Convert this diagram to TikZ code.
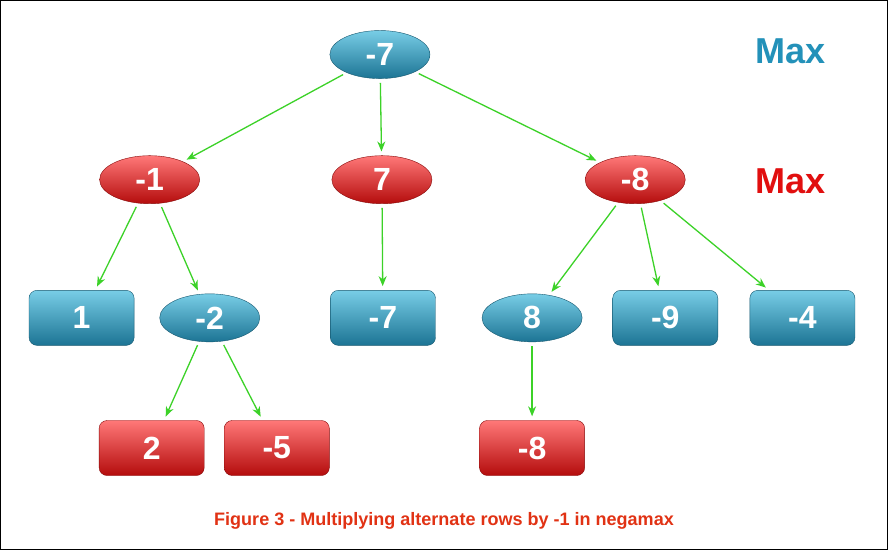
\documentclass[tikz,border=0pt]{standalone}
\usepackage{fontspec}
\setmainfont{Liberation Sans}
\usetikzlibrary{shapes.geometric,arrows.meta}
\definecolor{bl}{RGB}{35,145,185}
\definecolor{bll}{RGB}{120,205,230}
\definecolor{rd}{RGB}{225,15,15}
\definecolor{rdl}{RGB}{255,120,120}
\definecolor{gr}{RGB}{60,210,40}
\definecolor{cap}{RGB}{225,50,20}
\begin{document}
\begin{tikzpicture}[x=1pt,y=-1pt,
  lbl/.style={text=white,font=\bfseries\fontsize{32}{34}\selectfont},
  bell/.style={ellipse,lbl,minimum width=100pt,minimum height=48pt,inner sep=0pt,top color=bll,bottom color=bl!80!black,draw=bl!60!black},
  rell/.style={ellipse,lbl,minimum width=100pt,minimum height=48pt,inner sep=0pt,top color=rdl,bottom color=rd!80!black,draw=rd!60!black},
  brect/.style={rectangle,rounded corners=8pt,lbl,minimum width=105pt,minimum height=55pt,top color=bll,bottom color=bl!80!black,draw=bl!60!black},
  rrect/.style={rectangle,rounded corners=8pt,lbl,minimum width=105pt,minimum height=55pt,top color=rdl,bottom color=rd!80!black,draw=rd!60!black},
  e/.style={draw=gr,line width=1.3pt,shorten <=4pt,shorten >=4pt,-{Stealth[length=10pt,width=8pt]}}]
\draw[black,line width=1pt,fill=white] (1,1) rectangle (887,549);
\node[bell] (a) at (380,55) {-7};
\node[rell] (b1) at (150,180) {-1};
\node[rell] (b2) at (382,180) {7};
\node[rell] (b3) at (635,180) {-8};
\node[brect] (c1) at (82,318) {1};
\node[bell] (c2) at (210,318) {-2};
\node[brect] (c3) at (383,318) {-7};
\node[bell] (c4) at (532,318) {8};
\node[brect] (c5) at (665,318) {-9};
\node[brect] (c6) at (802,318) {-4};
\node[rrect] (d1) at (152,448) {2};
\node[rrect] (d2) at (277,448) {-5};
\node[rrect] (d3) at (532,448) {-8};
\node[text=bl,font=\bfseries\fontsize{36}{38}\selectfont] (m1) at (790,52) {Max};
\node[text=rd,font=\bfseries\fontsize{36}{38}\selectfont] (m2) at (790,182) {Max};
\node[text=cap,font=\bfseries\fontsize{18}{20}\selectfont] (t) at (444,521) {Figure 3 - Multiplying alternate rows by -1 in negamax};
\draw[e] (a) -- (b1); \draw[e] (a) -- (b2); \draw[e] (a) -- (b3);
\draw[e] (b1) -- (c1); \draw[e] (b1) -- (c2); \draw[e] (b2) -- (c3);
\draw[e] (b3) -- (c4); \draw[e] (b3) -- (c5); \draw[e] (b3) -- (c6);
\draw[e] (c2) -- (d1); \draw[e] (c2) -- (d2); \draw[e] (c4) -- (d3);
\end{tikzpicture}
\end{document}
